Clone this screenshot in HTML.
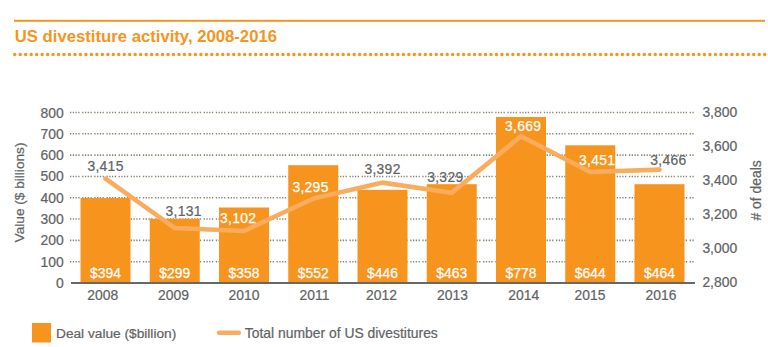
<!DOCTYPE html>
<html><head><meta charset="utf-8"><style>
html,body{margin:0;padding:0;background:#fff;width:768px;height:347px;overflow:hidden}
svg{display:block}
text{font-family:"Liberation Sans", sans-serif;}
.g{stroke:#67686a;stroke-width:0.22px}
.w{stroke:#fff;stroke-width:0.25px}
</style></head><body>
<svg width="768" height="347" viewBox="0 0 768 347">
<rect x="0" y="0" width="768" height="347" fill="#fff"/>
<rect x="14" y="19.8" width="751" height="2" fill="#F7941E"/>
<text x="14.8" y="41.8" font-size="16.7" font-weight="bold" fill="#F7941E">US divestiture activity, 2008-2016</text>
<line x1="14.75" y1="54.5" x2="766" y2="54.5" stroke="#F7941E" stroke-width="3.5" stroke-linecap="round" stroke-dasharray="0 5.474"/>

<line x1="70" y1="261.69" x2="695" y2="261.69" stroke="#8a836e" stroke-width="1.6" stroke-dasharray="1.3 1.45 1.3 1.45 1.3 1.45 1.3 2.6"/>
<line x1="70" y1="240.38" x2="695" y2="240.38" stroke="#8a836e" stroke-width="1.6" stroke-dasharray="1.3 1.45 1.3 1.45 1.3 1.45 1.3 2.6"/>
<line x1="70" y1="219.06" x2="695" y2="219.06" stroke="#8a836e" stroke-width="1.6" stroke-dasharray="1.3 1.45 1.3 1.45 1.3 1.45 1.3 2.6"/>
<line x1="70" y1="197.75" x2="695" y2="197.75" stroke="#8a836e" stroke-width="1.6" stroke-dasharray="1.3 1.45 1.3 1.45 1.3 1.45 1.3 2.6"/>
<line x1="70" y1="176.44" x2="695" y2="176.44" stroke="#8a836e" stroke-width="1.6" stroke-dasharray="1.3 1.45 1.3 1.45 1.3 1.45 1.3 2.6"/>
<line x1="70" y1="155.12" x2="695" y2="155.12" stroke="#8a836e" stroke-width="1.6" stroke-dasharray="1.3 1.45 1.3 1.45 1.3 1.45 1.3 2.6"/>
<line x1="70" y1="133.81" x2="695" y2="133.81" stroke="#8a836e" stroke-width="1.6" stroke-dasharray="1.3 1.45 1.3 1.45 1.3 1.45 1.3 2.6"/>
<line x1="70" y1="112.50" x2="695" y2="112.50" stroke="#8a836e" stroke-width="1.6" stroke-dasharray="1.3 1.45 1.3 1.45 1.3 1.45 1.3 2.6"/>
<rect x="80.50" y="198.00" width="50" height="85.00" fill="#F7941E"/>
<rect x="149.75" y="218.80" width="50" height="64.20" fill="#F7941E"/>
<rect x="219.00" y="207.50" width="50" height="75.50" fill="#F7941E"/>
<rect x="288.25" y="165.20" width="50" height="117.80" fill="#F7941E"/>
<rect x="357.50" y="189.80" width="50" height="93.20" fill="#F7941E"/>
<rect x="426.75" y="184.20" width="50" height="98.80" fill="#F7941E"/>
<rect x="496.00" y="117.00" width="50" height="166.00" fill="#F7941E"/>
<rect x="565.25" y="145.30" width="50" height="137.70" fill="#F7941E"/>
<rect x="634.50" y="184.20" width="50" height="98.80" fill="#F7941E"/>
<rect x="71" y="282" width="624" height="2" fill="#67686a"/>
<text x="105.50" y="277.8" font-size="13.9" fill="#fff" class="w" text-anchor="middle">$394</text>
<text x="174.75" y="277.8" font-size="13.9" fill="#fff" class="w" text-anchor="middle">$299</text>
<text x="244.00" y="277.8" font-size="13.9" fill="#fff" class="w" text-anchor="middle">$358</text>
<text x="313.25" y="277.8" font-size="13.9" fill="#fff" class="w" text-anchor="middle">$552</text>
<text x="382.50" y="277.8" font-size="13.9" fill="#fff" class="w" text-anchor="middle">$446</text>
<text x="451.75" y="277.8" font-size="13.9" fill="#fff" class="w" text-anchor="middle">$463</text>
<text x="521.00" y="277.8" font-size="13.9" fill="#fff" class="w" text-anchor="middle">$778</text>
<text x="590.25" y="277.8" font-size="13.9" fill="#fff" class="w" text-anchor="middle">$644</text>
<text x="659.50" y="277.8" font-size="13.9" fill="#fff" class="w" text-anchor="middle">$464</text>
<text x="102.75" y="299.6" font-size="13.9" fill="#616264" class="g" text-anchor="middle">2008</text>
<text x="173.50" y="299.6" font-size="13.9" fill="#616264" class="g" text-anchor="middle">2009</text>
<text x="244.00" y="299.6" font-size="13.9" fill="#616264" class="g" text-anchor="middle">2010</text>
<text x="314.50" y="299.6" font-size="13.9" fill="#616264" class="g" text-anchor="middle">2011</text>
<text x="381.50" y="299.6" font-size="13.9" fill="#616264" class="g" text-anchor="middle">2012</text>
<text x="452.50" y="299.6" font-size="13.9" fill="#616264" class="g" text-anchor="middle">2013</text>
<text x="523.75" y="299.6" font-size="13.9" fill="#616264" class="g" text-anchor="middle">2014</text>
<text x="590.00" y="299.6" font-size="13.9" fill="#616264" class="g" text-anchor="middle">2015</text>
<text x="661.00" y="299.6" font-size="13.9" fill="#616264" class="g" text-anchor="middle">2016</text>
<text x="63.8" y="288.00" font-size="13.9" fill="#616264" class="g" text-anchor="end">0</text>
<text x="63.8" y="266.69" font-size="13.9" fill="#616264" class="g" text-anchor="end">100</text>
<text x="63.8" y="245.38" font-size="13.9" fill="#616264" class="g" text-anchor="end">200</text>
<text x="63.8" y="224.06" font-size="13.9" fill="#616264" class="g" text-anchor="end">300</text>
<text x="63.8" y="202.75" font-size="13.9" fill="#616264" class="g" text-anchor="end">400</text>
<text x="63.8" y="181.44" font-size="13.9" fill="#616264" class="g" text-anchor="end">500</text>
<text x="63.8" y="160.12" font-size="13.9" fill="#616264" class="g" text-anchor="end">600</text>
<text x="63.8" y="138.81" font-size="13.9" fill="#616264" class="g" text-anchor="end">700</text>
<text x="63.8" y="117.50" font-size="13.9" fill="#616264" class="g" text-anchor="end">800</text>
<text x="702.4" y="287.10" font-size="13.9" fill="#616264" class="g">2,800</text>
<text x="702.4" y="253.00" font-size="13.9" fill="#616264" class="g">3,000</text>
<text x="702.4" y="218.90" font-size="13.9" fill="#616264" class="g">3,200</text>
<text x="702.4" y="184.80" font-size="13.9" fill="#616264" class="g">3,400</text>
<text x="702.4" y="150.70" font-size="13.9" fill="#616264" class="g">3,600</text>
<text x="702.4" y="116.60" font-size="13.9" fill="#616264" class="g">3,800</text>
<text transform="translate(24.3,192.5) rotate(-90)" font-size="13.65" fill="#616264" class="g" text-anchor="middle">Value ($ billions)</text>
<text transform="translate(761,190.4) rotate(-90)" font-size="13.9" fill="#616264" class="g" text-anchor="middle"># of deals</text>
<polyline points="105.50,178.70 174.75,228.00 244.00,231.00 313.25,198.60 382.50,182.60 451.75,192.80 521.00,136.20 590.25,172.00 659.50,169.60" fill="none" stroke="#F9AC5E" stroke-width="4.6" stroke-linejoin="miter" stroke-linecap="round"/>
<text x="87.40" y="170.70" font-size="13.9" letter-spacing="0.3" fill="#616264" class="g">3,415</text>
<text x="165.50" y="215.90" font-size="13.9" letter-spacing="0.3" fill="#616264" class="g">3,131</text>
<text x="220.10" y="222.80" font-size="13.9" letter-spacing="0.3" fill="#fff" class="w">3,102</text>
<text x="292.40" y="192.30" font-size="13.9" letter-spacing="0.3" fill="#fff" class="w">3,295</text>
<text x="364.40" y="173.70" font-size="13.9" letter-spacing="0.3" fill="#616264" class="g">3,392</text>
<text x="427.20" y="181.60" font-size="13.9" letter-spacing="0.3" fill="#616264" class="g">3,329</text>
<text x="505.00" y="130.60" font-size="13.9" letter-spacing="0.3" fill="#fff" class="w">3,669</text>
<text x="579.10" y="164.50" font-size="13.9" letter-spacing="0.3" fill="#fff" class="w">3,451</text>
<text x="650.30" y="165.10" font-size="13.9" letter-spacing="0.3" fill="#616264" class="g">3,466</text>
<rect x="32" y="323" width="19" height="19.5" fill="#F7941E"/>
<text x="56" y="338.3" font-size="13.7" fill="#616264" class="g">Deal value ($billion)</text>
<line x1="219" y1="332.7" x2="239" y2="332.7" stroke="#F9AC5E" stroke-width="4.4" stroke-linecap="round"/>
<text x="244.8" y="338.3" font-size="13.9" fill="#616264" class="g">Total number of US divestitures</text>
</svg></body></html>
